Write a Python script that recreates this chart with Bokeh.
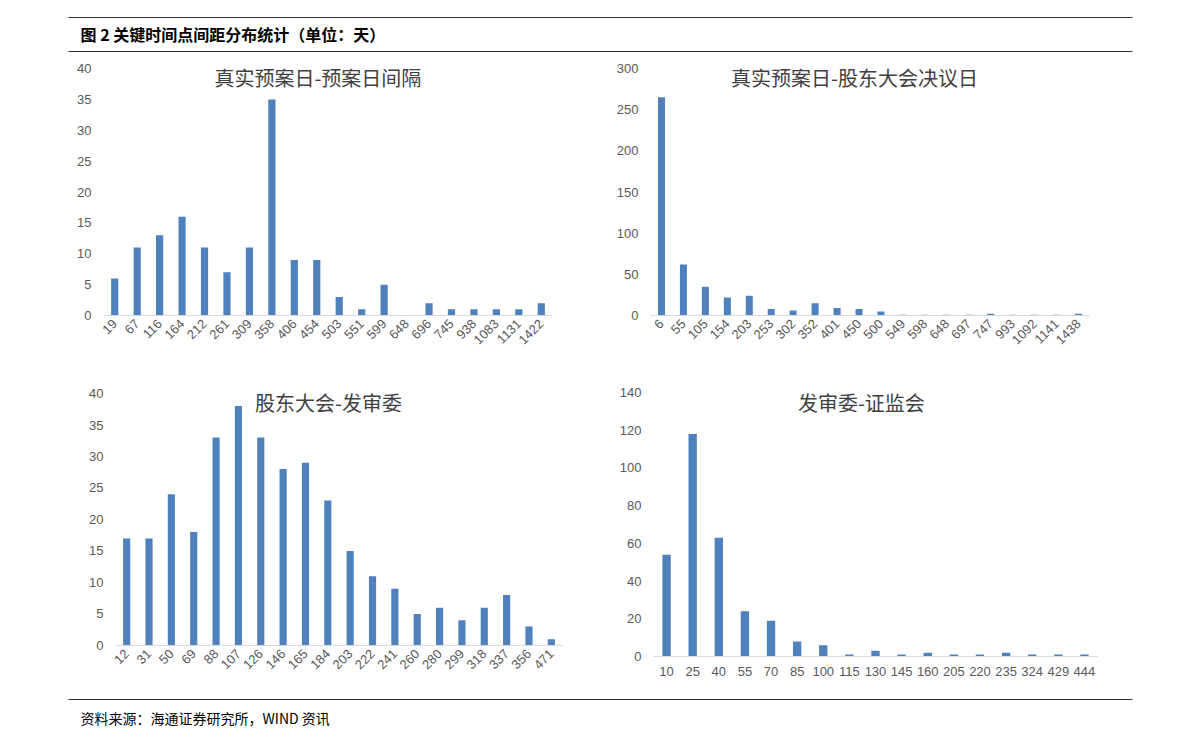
import math
from bokeh.plotting import figure
from bokeh.layouts import column, row
from bokeh.models import Range1d, FactorRange, FixedTicker, Label, ColumnDataSource, Span
from bokeh.core.properties import value
from bokeh.embed import file_html
from bokeh.resources import INLINE

# ---------------- data ----------------
c1_title = "真实预案日-预案日间隔"
c1_labels = ["19", "67", "116", "164", "212", "261", "309", "358", "406", "454",
             "503", "551", "599", "648", "696", "745", "938", "1083", "1131", "1422"]
c1_values = [6, 11, 13, 16, 11, 7, 11, 35, 9, 9, 3, 1, 5, 0, 2, 1, 1, 1, 1, 2]

c2_title = "真实预案日-股东大会决议日"
c2_labels = ["6", "55", "105", "154", "203", "253", "302", "352", "401", "450",
             "500", "549", "598", "648", "697", "747", "993", "1092", "1141", "1438"]
c2_values = [265, 62, 35, 22, 24, 8, 6, 15, 9, 8, 5, 1, 1, 1, 1, 2, 1, 1, 1, 2]

c3_title = "股东大会-发审委"
c3_labels = ["12", "31", "50", "69", "88", "107", "126", "146", "165", "184",
             "203", "222", "241", "260", "280", "299", "318", "337", "356", "471"]
c3_values = [17, 17, 24, 18, 33, 38, 33, 28, 29, 23, 15, 11, 9, 5, 6, 4, 6, 8, 3, 1]

c4_title = "发审委-证监会"
c4_labels = ["10", "25", "40", "55", "70", "85", "100", "115", "130", "145",
             "160", "205", "220", "235", "324", "429", "444"]
c4_values = [54, 118, 63, 24, 19, 8, 6, 1, 3, 1, 2, 1, 1, 2, 1, 1, 1]

c1_ticks = [0, 5, 10, 15, 20, 25, 30, 35, 40]
c2_ticks = [0, 50, 100, 150, 200, 250, 300]
c3_ticks = [0, 5, 10, 15, 20, 25, 30, 35, 40]
c4_ticks = [0, 20, 40, 60, 80, 100, 120, 140]

header_text = "图 2 关键时间点间距分布统计（单位：天）"
footer_text = "资料来源：海通证券研究所，WIND 资讯"

BAR = "#4F81BD"
AXIS = "#d9d9d9"
NUM_FONT = "Liberation Sans"
CJK = "Noto Sans CJK SC"


def chart(title, labels, values, ticks, yrange, width, height, bl, br, bt, bb,
          rotate, title_x, title_y, raised_zero=False):
    p = figure(width=width, height=height, x_range=FactorRange(*labels),
               y_range=Range1d(*yrange),
               output_backend="svg", toolbar_location=None,
               min_border_left=bl, min_border_right=br,
               min_border_top=bt, min_border_bottom=bb)
    src = ColumnDataSource(dict(x=labels, y=values))
    p.vbar(x="x", top="y", width=0.32, source=src, fill_color=BAR, line_color=None)
    p.outline_line_color = None
    p.grid.visible = False
    p.background_fill_color = "white"
    p.border_fill_color = "white"
    # y axis
    p.yaxis.ticker = FixedTicker(ticks=ticks)
    p.yaxis.axis_line_color = None
    p.yaxis.major_tick_line_color = None
    p.yaxis.minor_tick_line_color = None
    p.yaxis.major_tick_out = 0
    p.yaxis.major_tick_in = 0
    p.yaxis.major_label_standoff = 12
    p.yaxis.major_label_text_font = NUM_FONT
    p.yaxis.major_label_text_font_size = "13px"
    p.yaxis.major_label_text_color = "#595959"
    # x axis
    p.xaxis.axis_line_color = AXIS
    p.xaxis.axis_line_width = 1
    p.xaxis.major_tick_line_color = None
    p.xaxis.minor_tick_line_color = None
    p.xaxis.major_tick_out = 0
    p.xaxis.major_tick_in = 0
    p.xaxis.major_label_text_font = NUM_FONT
    p.xaxis.major_label_text_font_size = "13px"
    p.xaxis.major_label_text_color = "#595959"
    if rotate:
        p.xaxis.major_label_orientation = math.pi / 4
        p.xaxis.major_label_standoff = 6
    else:
        p.xaxis.major_label_orientation = "horizontal"
        p.xaxis.major_label_standoff = 10
    if raised_zero:
        # zero line sits 11px above the frame bottom: draw the baseline at 0
        p.xaxis.axis_line_color = None
        p.xaxis.major_label_standoff = -5
        p.add_layout(Span(location=0, dimension="width", line_color=AXIS, line_width=1))
    p.add_layout(Label(x=title_x, y=title_y, text=title, text_align="center",
                       text_baseline="middle", text_font=CJK,
                       text_font_size="20px", text_color="#404040"))
    return p


# top row: frames 68..315 (page)
p1 = chart(c1_title, c1_labels, c1_values, c1_ticks, (0, 40), 600, 312, 103, 48, 10, 55,
           True, 9.55, 38.5)
p2 = chart(c2_title, c2_labels, c2_values, c2_ticks, (0, 300), 575, 312, 50, 86, 10, 55,
           True, 9.29, 289.0)
# bottom row: both frames 392..656 (page); left chart's zero sits at 645
p3 = chart(c3_title, c3_labels, c3_values, c3_ticks, (-1.75, 40.16), 600, 320, 115, 38, 22, 34,
           True, 9.53, 38.6, raised_zero=True)
p4 = chart(c4_title, c4_labels, c4_values, c4_ticks, (0, 140), 575, 320, 53, 78, 22, 34,
           False, 7.96, 134.9)


def band(height, line_y, text, text_y, size, bold):
    b = figure(width=1183, height=height, x_range=Range1d(0, 1183),
               y_range=Range1d(height, 0), output_backend="svg",
               toolbar_location=None, min_border=0)
    b.axis.visible = False
    b.grid.visible = False
    b.outline_line_color = None
    for ly in line_y:
        b.segment(x0=68, y0=ly, x1=1132, y1=ly, line_color="#303030", line_width=1)
    b.text(x=[80], y=[text_y], text=[text], text_font=value(CJK),
           text_font_size=size, text_font_style="bold" if bold else "normal",
           text_color="black", text_baseline="middle", text_align="left")
    return b


header = band(58, [17, 51], header_text, 33, "16px", True)
footer = band(47, [9], footer_text, 27, "14px", False)

layout = column(header, row(p1, p2, spacing=0), row(p3, p4, spacing=0), footer,
                spacing=0)

open("out.html", "w").write(file_html(layout, INLINE))
